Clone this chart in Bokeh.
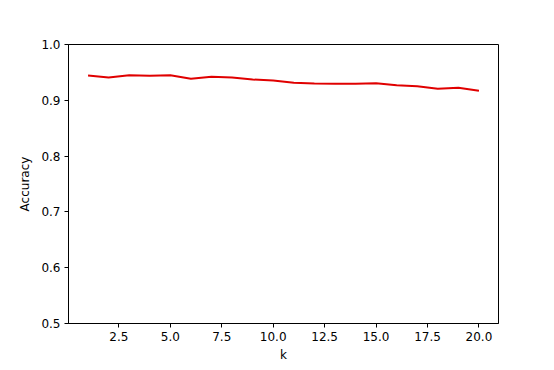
from bokeh.plotting import figure
from bokeh.models import Range1d, FixedTicker
from bokeh.embed import file_html
from bokeh.resources import INLINE

k_values = list(range(1, 21))
accuracy = [0.9444, 0.9409, 0.9450, 0.9439, 0.9450, 0.9385, 0.9423, 0.9409, 0.9373, 0.9355,
            0.9314, 0.9301, 0.9296, 0.9296, 0.9306, 0.9271, 0.9253, 0.9206, 0.9224, 0.9170]
x_ticks = [2.5, 5.0, 7.5, 10.0, 12.5, 15.0, 17.5, 20.0]
x_tick_labels = ["2.5", "5.0", "7.5", "10.0", "12.5", "15.0", "17.5", "20.0"]
y_ticks = [0.5, 0.6, 0.7, 0.8, 0.9, 1.0]
y_tick_labels = ["0.5", "0.6", "0.7", "0.8", "0.9", "1.0"]

FONT = "DejaVu Sans"

p = figure(width=554, height=370, output_backend="svg", toolbar_location=None,
           x_range=Range1d(0.05, 20.95), y_range=Range1d(0.5, 1.0),
           min_border_left=68, min_border_right=56, min_border_top=44, min_border_bottom=47)
p.grid.visible = False
p.outline_line_color = "black"
p.outline_line_alpha = 1.0
p.outline_line_width = 1
p.background_fill_color = "white"
p.border_fill_color = "white"

p.line(k_values, accuracy, line_color="#e00000", line_width=2)

p.xaxis.ticker = FixedTicker(ticks=x_ticks)
p.xaxis.major_label_overrides = {t: l for t, l in zip(x_ticks, x_tick_labels)}
p.yaxis.ticker = FixedTicker(ticks=y_ticks)
p.yaxis.major_label_overrides = {t: l for t, l in zip(y_ticks, y_tick_labels)}

for ax in (p.xaxis, p.yaxis):
    ax.minor_tick_line_color = None
    ax.major_tick_in = 0
    ax.major_tick_out = 4
    ax.major_tick_line_color = "black"
    ax.axis_line_color = "black"
    ax.major_label_text_font = FONT
    ax.major_label_text_font_size = "12px"
    ax.major_label_text_color = "black"
    ax.axis_label_text_font = FONT
    ax.axis_label_text_font_size = "12px"
    ax.axis_label_text_font_style = "normal"
    ax.axis_label_text_color = "black"

p.xaxis.axis_label = "k"
p.yaxis.axis_label = "Accuracy"
p.xaxis.major_label_standoff = 4
p.yaxis.major_label_standoff = 4
p.xaxis.axis_label_standoff = 4
p.yaxis.axis_label_standoff = 6

open("out.html", "w").write(file_html(p, INLINE))
